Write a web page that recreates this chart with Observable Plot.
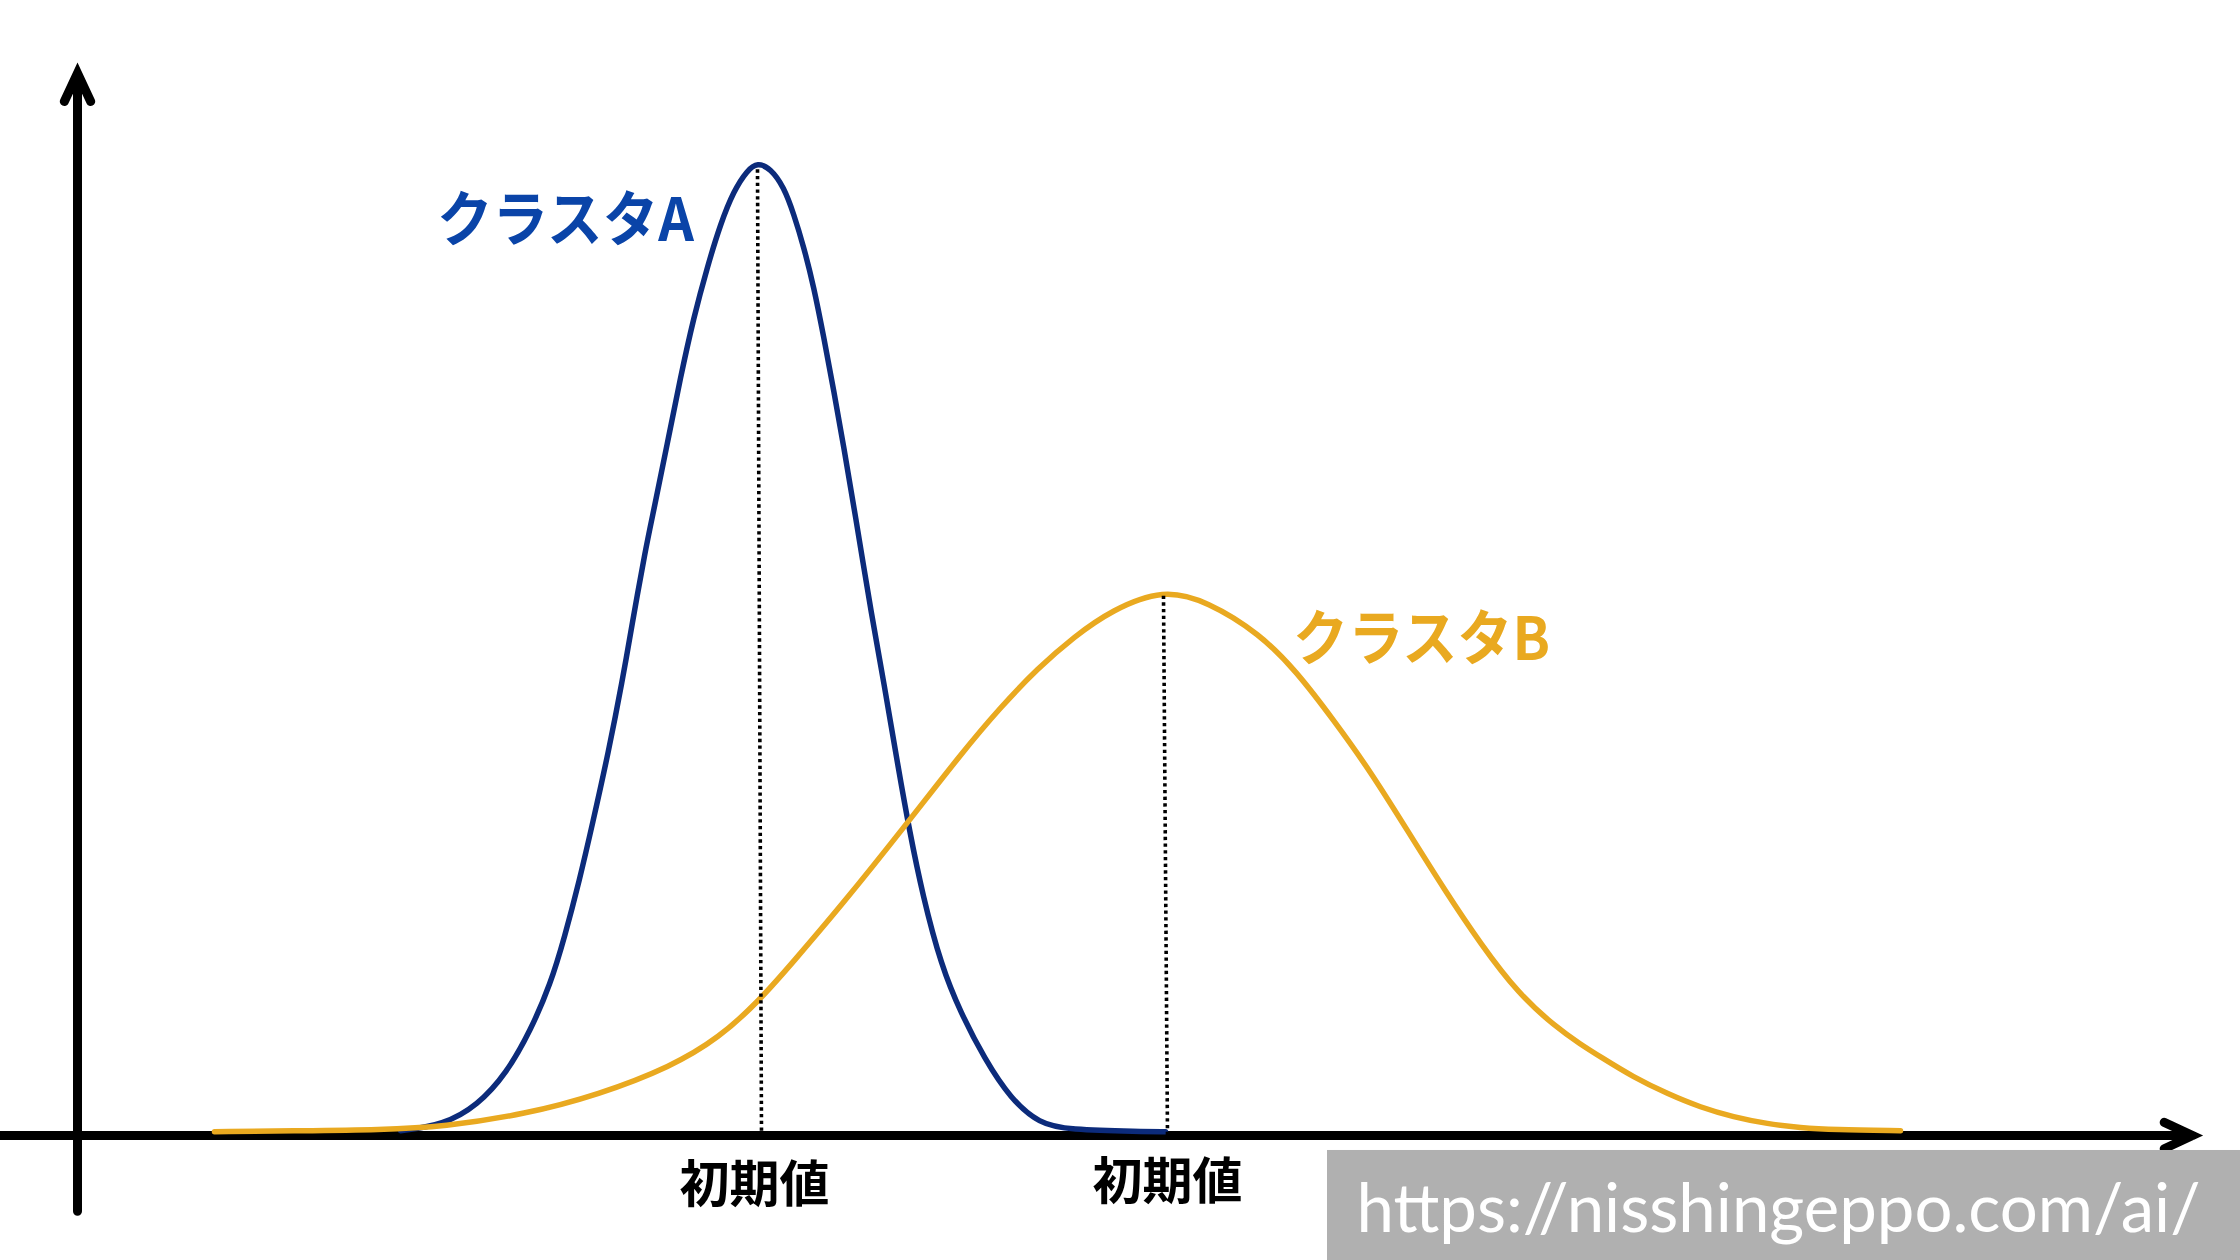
<!DOCTYPE html>
<html>
<head>
<meta charset="utf-8">
<script src="https://cdn.jsdelivr.net/npm/d3@7"></script>
<script src="https://cdn.jsdelivr.net/npm/@observablehq/plot@0.6"></script>
<style>
  html, body { margin: 0; padding: 0; background: #ffffff; }
  #chart { width: 2240px; height: 1260px; overflow: hidden; }
</style>
</head>
<body>
<div id="chart"></div>
<script>
// Cluster A density curve (x along the horizontal axis, y = height, peak = 1)
const xA = [3.23, 3.66, 4.00, 4.29, 4.53, 4.73, 4.87, 5.02, 5.15, 5.31, 5.45, 5.54, 5.68, 5.763, 5.897, 6.03, 6.163, 6.297, 6.43, 6.563, 6.697, 6.80,
            6.93, 7.063, 7.163, 7.263, 7.363, 7.463, 7.563, 7.663, 7.77, 7.95, 8.06, 8.21, 8.32, 8.45, 8.64, 8.83, 9.07, 9.33, 9.62, 9.91, 10.63, 10.88];
const yA = [0.005, 0.011, 0.031, 0.064, 0.108, 0.156, 0.204, 0.263, 0.321, 0.395, 0.469, 0.523, 0.604, 0.644, 0.712, 0.781, 0.843, 0.894, 0.939, 0.973, 0.994, 1.002,
            0.996, 0.977, 0.949, 0.915, 0.874, 0.822, 0.767, 0.709, 0.644, 0.530, 0.469, 0.377, 0.314, 0.248, 0.174, 0.127, 0.079, 0.038, 0.012, 0.006, 0.004, 0.004];

// Cluster B density curve
const xB = [1.37, 2.23, 3.03, 3.66, 4.48, 5.21, 5.94, 6.42, 6.81, 7.15, 7.64, 8.27, 8.85, 9.23, 9.60, 9.97, 10.34, 10.86,
            11.30, 11.82, 12.19, 12.56, 12.93, 13.30, 13.67, 14.04, 14.41, 14.78, 15.03, 15.23, 15.56, 15.90, 16.23, 16.56, 16.90, 17.23, 17.56, 18.23];
const yB = [0.004, 0.005, 0.006, 0.009, 0.022, 0.042, 0.071, 0.101, 0.138, 0.178, 0.237, 0.318, 0.395, 0.441, 0.481, 0.514, 0.541, 0.563,
            0.550, 0.517, 0.478, 0.428, 0.375, 0.314, 0.253, 0.196, 0.146, 0.112, 0.094, 0.081, 0.060, 0.043, 0.029, 0.019, 0.012, 0.008, 0.006, 0.005];

// Initial values (peaks) with dotted guide lines
const initNames = ["A", "B"];
const initTopX = [6.80, 10.86];
const initTopY = [0.995, 0.556];
const initBottomX = [6.84, 10.90];
const initLabel = "初期値";
const initLabelX = [6.77, 10.90];
const initLabelY = [-0.0515, -0.0494];

// Cluster labels
const clusterNames = ["クラスタA", "クラスタB"];
const clusterLabelX = [4.88, 13.44];
const clusterLabelY = [0.941, 0.510];
const clusterColors = ["#0a44a8", "#e9a920"];
const curveColors = ["#0c2b7b", "#e9a920"];

// Axes extents
const xAxisFrom = -0.77, xAxisTo = 21.15;
const yAxisFrom = -0.078, yAxisTo = 1.094;

// Watermark
const watermarkText = "https://nisshingeppo.com/ai/";
const watermarkBox = {x1: 12.50, x2: 21.63, y1: -0.0154, y2: -0.1287};
const watermarkTextX = 17.01, watermarkTextY = -0.0996;

const A = xA.map((x, i) => ({x, y: yA[i]}));
const B = xB.map((x, i) => ({x, y: yB[i]}));
const inits = initNames.map((n, i) => ({n, x1: initTopX[i], y1: initTopY[i], x2: initBottomX[i], y2: 0, lx: initLabelX[i], ly: initLabelY[i]}));
const clusters = clusterNames.map((t, i) => ({t, x: clusterLabelX[i], y: clusterLabelY[i], c: clusterColors[i]}));

const arrowStyle = {x1: "x1", y1: "y1", x2: "x2", y2: "y2", stroke: "#000", strokeWidth: 9,
  headLength: 5.2, headAngle: 50, strokeLinejoin: "miter", strokeMiterlimit: 10, strokeLinecap: "round"};

const plot = Plot.plot({
  width: 2240,
  height: 1260,
  margin: 0,
  x: {domain: [-0.77, 21.63], axis: null},
  y: {domain: [-0.1287, 1.1689], axis: null},
  style: {background: "#ffffff", overflow: "visible"},
  marks: [
    // axes with arrowheads
    Plot.arrow([{x1: xAxisFrom, y1: 0, x2: xAxisTo, y2: 0}], arrowStyle),
    Plot.arrow([{x1: 0, y1: yAxisFrom, x2: 0, y2: yAxisTo}], arrowStyle),
    // curves
    Plot.line(A, {x: "x", y: "y", stroke: curveColors[0], strokeWidth: 5.5, curve: "basis"}),
    Plot.line(B, {x: "x", y: "y", stroke: curveColors[1], strokeWidth: 5.5, curve: "basis"}),
    // dotted guides
    Plot.link(inits, {x1: "x1", y1: "y1", x2: "x2", y2: "y2", stroke: "#000", strokeWidth: 3.6, strokeDasharray: "3.3,3.4"}),
    // labels
    Plot.text(inits, {x: "lx", y: "ly", text: () => initLabel, fill: "#000", fontSize: 50, fontWeight: 700,
      fontFamily: "Noto Sans CJK JP", textAnchor: "middle", lineAnchor: "middle"}),
    Plot.text(clusters, {x: "x", y: "y", text: "t", fill: "c", fontSize: 60, fontWeight: 700,
      fontFamily: "Noto Sans CJK JP", textAnchor: "middle", lineAnchor: "middle", className: "cluster-label"}),
    // watermark
    Plot.rect([watermarkBox], {x1: "x1", x2: "x2", y1: "y1", y2: "y2", fill: "#b0b0b0"}),
    Plot.text([watermarkText], {x: watermarkTextX, y: watermarkTextY, text: d => d, fill: "#ffffff",
      fontSize: 67, fontFamily: "Lato", textAnchor: "middle", lineAnchor: "bottom", className: "wm-text"})
  ]
});

d3.select(plot).selectAll(".wm-text text")
  .attr("textLength", 844)
  .attr("lengthAdjust", "spacingAndGlyphs");
d3.select(plot).selectAll(".cluster-label text")
  .attr("textLength", 257)
  .attr("lengthAdjust", "spacingAndGlyphs");

document.getElementById("chart").appendChild(plot);
</script>
</body>
</html>
